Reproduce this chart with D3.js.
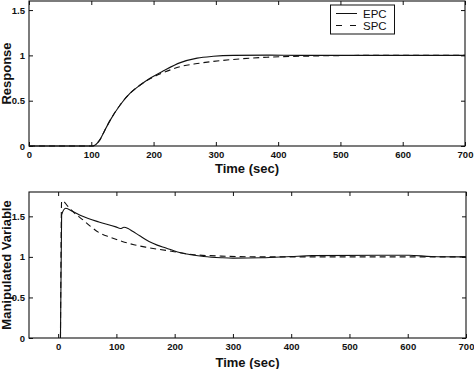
<!DOCTYPE html>
<html>
<head>
<meta charset="utf-8">
<script src="https://cdn.jsdelivr.net/npm/d3@7"></script>
<style>
  body { margin: 0; background: #fff; }
  svg { display: block; }
</style>
</head>
<body>
<svg id="chart" width="474" height="369"></svg>
<script>
// response plot
var respTime = [0, 100, 103, 106, 110, 114, 120, 130, 146, 162, 178, 195, 216, 243, 270, 296, 328, 382, 436, 489, 550, 700];
var respEPC  = [0, 0, 0, 0.01, 0.035, 0.07, 0.15, 0.28, 0.45, 0.58, 0.67, 0.75, 0.83, 0.92, 0.97, 0.99, 1.0, 1.003, 1.0, 1.0, 1.0, 1.0];
var respSPC  = [0, 0, 0, 0.01, 0.035, 0.07, 0.15, 0.28, 0.45, 0.58, 0.67, 0.745, 0.81, 0.876, 0.91, 0.934, 0.955, 0.98, 0.99, 0.997, 1.0, 1.0];

// manipulated variable plot
var mvTimeEPC = [4, 6, 13, 25, 42, 70, 99, 107, 113, 120, 127, 140, 156, 170, 185, 205, 225, 250, 280, 300, 350, 400, 436, 550, 602, 640, 700];
var mvEPC     = [0, 1.52, 1.60, 1.56, 1.50, 1.43, 1.37, 1.35, 1.365, 1.35, 1.32, 1.26, 1.19, 1.145, 1.11, 1.06, 1.03, 1.005, 0.99, 0.985, 0.99, 1.005, 1.015, 1.02, 1.02, 1.005, 1.0];
var mvTimeSPC = [4, 6, 10, 16, 28, 42, 55, 70, 90, 110, 130, 150, 185, 230, 280, 350, 700];
var mvSPC     = [0, 1.69, 1.68, 1.63, 1.54, 1.46, 1.38, 1.30, 1.24, 1.19, 1.15, 1.12, 1.08, 1.03, 1.01, 1.0, 1.0];

var xTicks = [0, 100, 200, 300, 400, 500, 600, 700];
var respTicks = [0, 0.5, 1, 1.5];
var mvTicks = [0, 0.5, 1, 1.5];
var legendNames = ["EPC", "SPC"];

var svg = d3.select("#chart");
var font = "'Liberation Sans', Arial, Helvetica, sans-serif";

function drawPanel(opt) {
    var x = d3.scaleLinear().domain(opt.xDomain).range([opt.left, opt.right]);
    var y = d3.scaleLinear().domain(opt.yDomain).range([opt.bottom, opt.top]);
    var g = svg.append("g");

    var line = d3.line()
        .x(function(d) { return x(d[0]); })
        .y(function(d) { return y(d[1]); })
        .curve(d3.curveMonotoneX);

    opt.series.forEach(function(s) {
        g.append("path")
            .datum(d3.zip(s.t, s.v))
            .attr("d", line)
            .attr("fill", "none")
            .attr("stroke", "#111")
            .attr("stroke-width", 1.1)
            .attr("stroke-dasharray", s.dash);
    });

    // axes, ticks pointing inward on all four sides
    var bx = g.append("g").attr("transform", "translate(0," + opt.bottom + ")")
        .call(d3.axisBottom(x).tickValues(xTicks).tickSize(-4).tickPadding(5.5));
    var lx = g.append("g").attr("transform", "translate(" + opt.left + ",0)")
        .call(d3.axisLeft(y).tickValues(opt.yTicks).tickSize(-4).tickPadding(4).tickFormat(d3.format("")));
    g.append("g").attr("transform", "translate(0," + opt.top + ")")
        .call(d3.axisTop(x).tickValues(xTicks).tickSize(-4).tickFormat(""));
    g.append("g").attr("transform", "translate(" + opt.right + ",0)")
        .call(d3.axisRight(y).tickValues(opt.yTicks).tickSize(-4).tickFormat(""));

    g.selectAll(".domain").remove();
    g.selectAll(".tick line").attr("stroke", "#111");
    [bx, lx].forEach(function(a) {
        a.selectAll("text")
            .attr("font-family", font)
            .attr("font-size", "9.5px")
            .attr("font-weight", "bold")
            .attr("fill", "#111");
    });

    g.append("rect")
        .attr("x", opt.left).attr("y", opt.top)
        .attr("width", opt.right - opt.left).attr("height", opt.bottom - opt.top)
        .attr("fill", "none").attr("stroke", "#111").attr("stroke-width", 1.1);

    g.append("text")
        .attr("x", (opt.left + opt.right) / 2)
        .attr("y", opt.xLabelY)
        .attr("text-anchor", "middle")
        .attr("font-family", font).attr("font-size", "13px").attr("font-weight", "bold")
        .attr("fill", "#111")
        .text("Time (sec)");

    g.append("text")
        .attr("transform", "translate(10.5," + ((opt.top + opt.bottom) / 2) + ") rotate(-90)")
        .attr("text-anchor", "middle")
        .attr("font-family", font).attr("font-size", opt.yLabelSize).attr("font-weight", "bold")
        .attr("fill", "#111")
        .text(opt.yLabel);

    return g;
}

drawPanel({
    xDomain: [0, 700], yDomain: [0, 1.6],
    left: 29, right: 465, top: 1, bottom: 146,
    yTicks: respTicks, xLabelY: 173, yLabel: "Response", yLabelSize: "13px",
    series: [
        { t: respTime, v: respEPC, dash: null },
        { t: respTime, v: respSPC, dash: "6,4" }
    ]
});

drawPanel({
    xDomain: [-50, 700], yDomain: [0, 1.8],
    left: 29, right: 466, top: 192, bottom: 338,
    yTicks: mvTicks, xLabelY: 366.5, yLabel: "Manipulated Variable", yLabelSize: "13px",
    series: [
        { t: mvTimeEPC, v: mvEPC, dash: null },
        { t: mvTimeSPC, v: mvSPC, dash: "6,4" }
    ]
});

// legend
var legend = svg.append("g");
legend.append("rect")
    .attr("x", 330.5).attr("y", 5).attr("width", 64).attr("height", 29)
    .attr("fill", "#fff").attr("stroke", "#111").attr("stroke-width", 1);
legendNames.forEach(function(name, i) {
    var yy = 13.5 + i * 12;
    legend.append("line")
        .attr("x1", 336).attr("x2", 357).attr("y1", yy).attr("y2", yy)
        .attr("stroke", "#111").attr("stroke-width", 1)
        .attr("stroke-dasharray", i == 1 ? "6,8" : null);
    legend.append("text")
        .attr("x", 363).attr("y", yy + 4.5)
        .attr("font-family", font).attr("font-size", "11.5px")
        .attr("fill", "#111")
        .text(name);
});
</script>
</body>
</html>
